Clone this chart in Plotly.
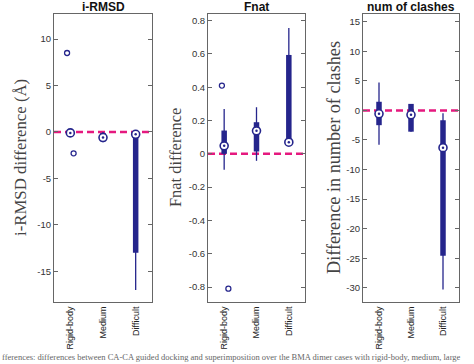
import plotly.graph_objects as go

categories = ["Rigid-body", "Medium", "Difficult"]

# i-RMSD difference
rmsd_q1 = [-0.5, -1.0, -13.0]
rmsd_q3 = [0.0, -0.1, -0.3]
rmsd_lo = [-0.5, -1.1, -17.0]
rmsd_hi = [0.0, 0.0, -0.3]
rmsd_med = [-0.1, -0.6, -0.25]
rmsd_out_cat = [0, 0]
rmsd_out_val = [8.5, -2.3]
rmsd_out_jit = [-0.1, 0.1]

# Fnat difference
fnat_q1 = [0.0, 0.014, 0.07]
fnat_q3 = [0.14, 0.19, 0.594]
fnat_lo = [-0.096, -0.042, 0.07]
fnat_hi = [0.27, 0.28, 0.756]
fnat_med = [0.048, 0.138, 0.07]
fnat_out_cat = [0, 0]
fnat_out_val = [0.41, -0.81]
fnat_out_jit = [-0.07, 0.13]

# Difference in number of clashes
clash_q1 = [-2.5, -3.6, -24.6]
clash_q3 = [1.46, 1.1, -1.65]
clash_lo = [-5.8, -3.6, -30.3]
clash_hi = [4.7, 1.1, -0.5]
clash_med = [-0.57, -0.74, -6.3]
clash_out_cat = []
clash_out_val = []
clash_out_jit = []

ref_value = 0

caption = ("fferences: differences between CA-CA guided docking and superimposition over the "
           "BMA dimer cases with rigid-body, medium, large")

W, H = 474, 364


def px(xp):
    return xp / W


def py(yp):
    return 1 - yp / H


panels = [
    dict(title="i-RMSD", ytitle="i-RMSD difference (Å)", yfs=16.8, ytx=20,
         q1=rmsd_q1, q3=rmsd_q3, lo=rmsd_lo, hi=rmsd_hi, med=rmsd_med,
         oc=rmsd_out_cat, ov=rmsd_out_val, oj=rmsd_out_jit,
         yrange=[-18.3, 12.7], tickvals=[10, 5, 0, -5, -10, -15],
         ticktext=["10", "5", "0", "-5", "-10", "-15"],
         xdom=[px(54), px(152)]),
    dict(title="Fnat", ytitle="Fnat difference", yfs=16.4, ytx=175,
         q1=fnat_q1, q3=fnat_q3, lo=fnat_lo, hi=fnat_hi, med=fnat_med,
         oc=fnat_out_cat, ov=fnat_out_val, oj=fnat_out_jit,
         yrange=[-0.89, 0.84], tickvals=[0.8, 0.6, 0.4, 0.2, 0, -0.2, -0.4, -0.6, -0.8],
         ticktext=["0.8", "0.6", "0.4", "0.2", "0", "-0.2", "-0.4", "-0.6", "-0.8"],
         xdom=[px(208), px(305)]),
    dict(title="num of clashes", ytitle="Difference in number of clashes", yfs=18.2, ytx=334,
         q1=clash_q1, q3=clash_q3, lo=clash_lo, hi=clash_hi, med=clash_med,
         oc=clash_out_cat, ov=clash_out_val, oj=clash_out_jit,
         yrange=[-32.4, 16.3], tickvals=[15, 10, 5, 0, -5, -10, -15, -20, -25, -30],
         ticktext=["15", "10", "5", "0", "-5", "-10", "-15", "-20", "-25", "-30"],
         xdom=[px(363), px(459)]),
]

BLUE = "#25258c"
PINK = "#e5197f"
ydom = [py(302), py(14)]

fig = go.Figure()
layout = dict(width=W, height=H, margin=dict(l=0, r=0, t=0, b=0),
              paper_bgcolor="white", plot_bgcolor="white", showlegend=False,
              hovermode=False)
annotations = []

for k, p in enumerate(panels):
    sfx = "" if k == 0 else str(k + 1)
    xa, ya = "x" + sfx, "y" + sfx
    pos = [i + 1 for i in range(len(categories))]
    # reference dashed line
    fig.add_trace(go.Scatter(x=[0.5, 3.5], y=[ref_value, ref_value], mode="lines",
                             line=dict(color=PINK, width=2.5, dash="7px,4px"),
                             xaxis=xa, yaxis=ya, hoverinfo="skip"))
    for i in range(len(categories)):
        # whisker
        fig.add_trace(go.Scatter(x=[pos[i], pos[i]], y=[p["lo"][i], p["hi"][i]], mode="lines",
                                 line=dict(color=BLUE, width=1.3), xaxis=xa, yaxis=ya))
        # box
        fig.add_trace(go.Scatter(x=[pos[i], pos[i]], y=[p["q1"][i], p["q3"][i]], mode="lines",
                                 line=dict(color=BLUE, width=5.5), xaxis=xa, yaxis=ya))
    # outliers
    if p["ov"]:
        fig.add_trace(go.Scatter(x=[pos[c] + j for c, j in zip(p["oc"], p["oj"])], y=p["ov"],
                                 mode="markers",
                                 marker=dict(symbol="circle-open", size=5, color=BLUE,
                                             line=dict(width=1.3)),
                                 xaxis=xa, yaxis=ya))
    # medians
    fig.add_trace(go.Scatter(x=pos, y=p["med"], mode="markers",
                             marker=dict(symbol="circle", size=8, color="white",
                                         line=dict(color=BLUE, width=1.6)),
                             xaxis=xa, yaxis=ya))
    fig.add_trace(go.Scatter(x=pos, y=p["med"], mode="markers",
                             marker=dict(symbol="circle", size=2.5, color=BLUE),
                             xaxis=xa, yaxis=ya))

    layout["xaxis" + sfx] = dict(domain=p["xdom"], anchor=ya, range=[0.5, 3.5],
                                 tickvals=pos, ticktext=categories, tickangle=-90,
                                 ticks="", showline=True, mirror=True, linecolor="#666",
                                 linewidth=1, showgrid=False, zeroline=False, fixedrange=True,
                                 tickfont=dict(family="Liberation Sans, Arial", size=9, color="#222"))
    layout["yaxis" + sfx] = dict(domain=ydom, anchor=xa, range=p["yrange"],
                                 tickvals=p["tickvals"], ticktext=p["ticktext"],
                                 ticks="inside", ticklen=4, tickcolor="#666",
                                 showline=True, mirror="ticks", linecolor="#666",
                                 linewidth=1, showgrid=False, zeroline=False, fixedrange=True,
                                 tickfont=dict(family="Liberation Sans, Arial", size=9.5, color="#333"))
    annotations.append(dict(text=p["ytitle"], x=px(p["ytx"]), y=(ydom[0] + ydom[1]) / 2,
                            xref="paper", yref="paper", showarrow=False, textangle=-90,
                            xanchor="center", yanchor="middle",
                            font=dict(family="Liberation Serif, Times New Roman",
                                      size=p["yfs"], color="#444")))
    annotations.append(dict(text="<b>" + p["title"] + "</b>", x=(p["xdom"][0] + p["xdom"][1]) / 2,
                            y=py(7), xref="paper", yref="paper", showarrow=False,
                            xanchor="center", yanchor="middle",
                            font=dict(family="Liberation Sans, Arial", size=12, color="#111")))

annotations.append(dict(text=caption, x=0, y=py(357), xref="paper", yref="paper",
                        showarrow=False, xanchor="left", yanchor="middle",
                        font=dict(family="Liberation Serif, Times New Roman", size=8.5, color="#666")))
layout["annotations"] = annotations
fig.update_layout(**layout)
fig.write_html("out.html", config={"displayModeBar": False, "staticPlot": True},
               post_script="document.body.style.margin='0';document.body.style.overflow='hidden';")
